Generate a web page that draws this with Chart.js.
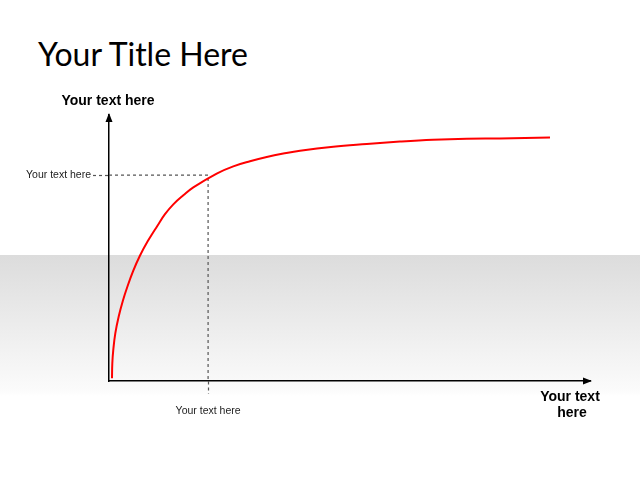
<!DOCTYPE html>
<html>
<head>
<meta charset="utf-8">
<script src="https://cdn.jsdelivr.net/npm/chart.js@4"></script>
<style>
  html, body { margin: 0; padding: 0; }
  body {
    width: 640px; height: 480px; overflow: hidden; position: relative;
    background: linear-gradient(to bottom, #fff 0px, #fff 255px, #dcdcdc 255px, #fbfbfb 390px, #fff 396px, #fff 480px);
  }
  #title {
    position: absolute; left: 38px; top: 34px;
    font-family: Lato, "Open Sans", sans-serif; font-size: 32px; color: #000;
    white-space: nowrap;
  }
  canvas { position: absolute; left: 0; top: 0; }
</style>
</head>
<body>
<div id="title">Your Title Here</div>
<canvas id="chart" width="640" height="480"></canvas>
<script>
const yAxisTitle = "Your text here";
const xAxisTitle = ["Your text", "here"];
const yTickLabel = "Your text here";
const xTickLabel = "Your text here";

// curve (0-100 on both axes)
const curveX = [0.62, 0.69, 0.89, 1.31, 2.04, 2.87, 3.87, 5.03, 6.40, 8.07, 10.04, 11.64, 13.37, 15.45, 17.53, 22.39, 25.84, 29.31, 32.79, 36.24, 39.71, 46.63, 53.58, 60.50, 67.36, 74.37, 81.29, 91.68];
const curveY = [1.0, 6.7, 11.7, 17.9, 24.4, 30.1, 35.7, 41.4, 47.0, 52.6, 58.3, 62.7, 66.4, 69.8, 72.8, 78.0, 80.7, 82.6, 84.2, 85.5, 86.6, 88.1, 89.1, 90.0, 90.7, 91.1, 91.2, 91.5];

// the marked point and its guide lines
const markX = 20.6;
const markY = 77.4;
const guideX = [0, markX, markX];
const guideY = [markY, markY, 0];

const arrows = {
  id: "arrows",
  afterDraw(chart) {
    const { ctx, chartArea } = chart;
    ctx.save();
    ctx.fillStyle = "#000";
    // up arrow on y axis
    ctx.beginPath();
    ctx.moveTo(chartArea.left, chartArea.top - 2);
    ctx.lineTo(chartArea.left - 3.5, chartArea.top + 7);
    ctx.lineTo(chartArea.left + 3.5, chartArea.top + 7);
    ctx.closePath();
    ctx.fill();
    // right arrow on x axis
    ctx.beginPath();
    ctx.moveTo(chartArea.right + 2, chartArea.bottom);
    ctx.lineTo(chartArea.right - 7, chartArea.bottom - 3.5);
    ctx.lineTo(chartArea.right - 7, chartArea.bottom + 3.5);
    ctx.closePath();
    ctx.fill();

    // axis titles
    ctx.font = "bold 14px 'Liberation Sans', Arial, sans-serif";
    ctx.textAlign = "center";
    ctx.textBaseline = "middle";
    ctx.fillText(yAxisTitle, chartArea.left - 1, 101);
    ctx.fillText(xAxisTitle[0], 570, 397);
    ctx.fillText(xAxisTitle[1], 572, 413);
    ctx.restore();
  }
};

new Chart(document.getElementById("chart"), {
  type: "line",
  data: {
    datasets: [
      {
        data: curveX.map((x, i) => ({ x, y: curveY[i] })),
        borderColor: "#ff0000",
        borderWidth: 2,
        pointRadius: 0,
        tension: 0.4,
        fill: false
      },
      {
        data: guideX.map((x, i) => ({ x, y: guideY[i] })),
        borderColor: "#555",
        borderWidth: 1.2,
        borderDash: [3, 3],
        pointRadius: 0,
        tension: 0,
        fill: false
      }
    ]
  },
  options: {
    responsive: false,
    animation: false,
    events: [],
    layout: { padding: { left: 16, top: 115, right: 50, bottom: 59 } },
    plugins: { legend: { display: false }, tooltip: { enabled: false }, title: { display: false } },
    scales: {
      x: {
        type: "linear",
        min: 0,
        max: 100,
        afterBuildTicks: s => { s.ticks = [{ value: markX }]; },
        afterFit: s => { s.height = 40; },
        ticks: {
          callback: () => xTickLabel,
          color: "#222",
          font: { family: "'Liberation Sans', Arial, sans-serif", size: 10.5 },
          padding: 11,
          maxRotation: 0
        },
        grid: {
          drawOnChartArea: false,
          tickLength: 13,
          tickColor: "#555",
          tickWidth: 1.2,
          tickBorderDash: [3, 3]
        },
        border: { display: true, color: "#000", width: 1.5 }
      },
      y: {
        type: "linear",
        min: 0,
        max: 100,
        afterBuildTicks: s => { s.ticks = [{ value: markY }]; },
        afterFit: s => { s.width = 93; },
        ticks: {
          callback: () => yTickLabel,
          color: "#222",
          font: { family: "'Liberation Sans', Arial, sans-serif", size: 10.5 },
          padding: 2
        },
        grid: {
          drawOnChartArea: false,
          tickLength: 16,
          tickColor: "#555",
          tickWidth: 1.2,
          tickBorderDash: [3, 3]
        },
        border: { display: true, color: "#000", width: 1.5 }
      }
    }
  },
  plugins: [arrows]
});
</script>
</body>
</html>
